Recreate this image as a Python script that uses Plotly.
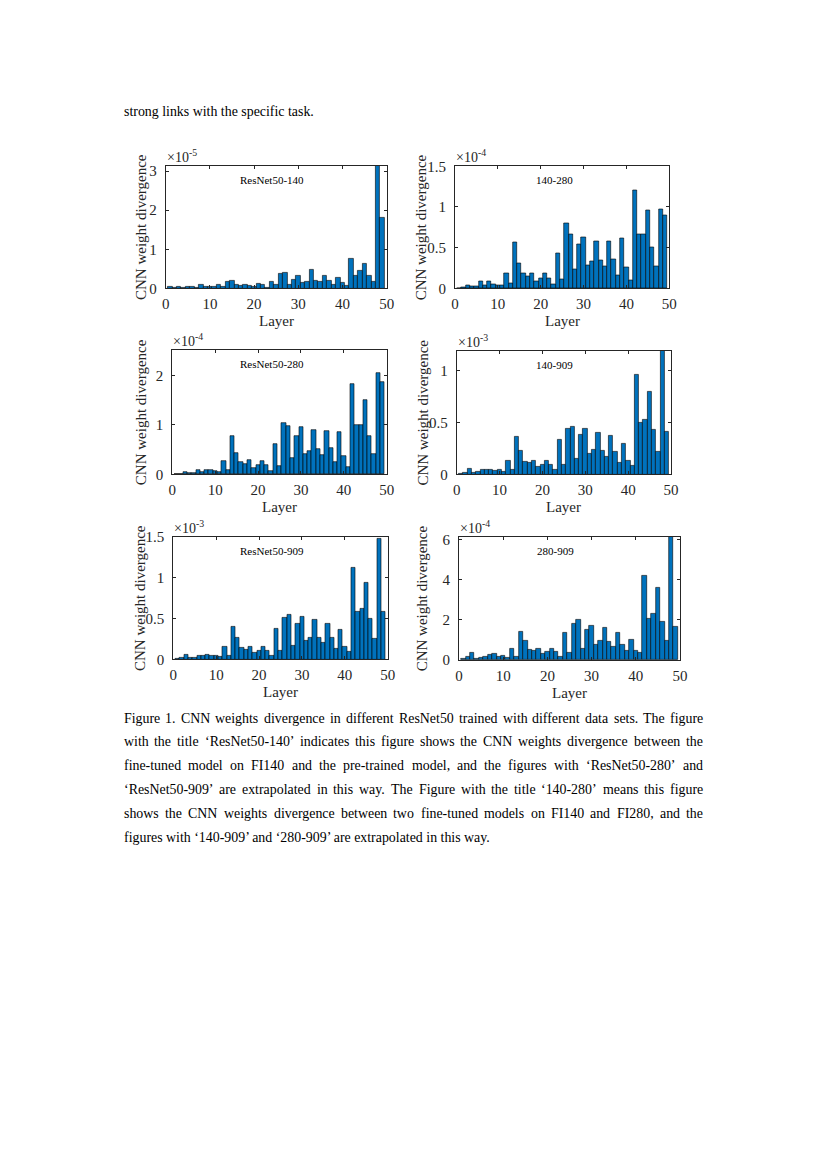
import plotly.graph_objects as go

W, H = 827, 1169

layers = list(range(1, 50))

resnet50_140 = [0.05, 0.02, 0.04, 0.02, 0.03, 0.05, 0.02, 0.10, 0.04, 0.05,
                0.03, 0.10, 0.05, 0.18, 0.20, 0.10, 0.07, 0.10, 0.06, 0.05,
                0.12, 0.08, 0.02, 0.18, 0.08, 0.37, 0.40, 0.10, 0.23, 0.32,
                0.14, 0.18, 0.48, 0.20, 0.17, 0.33, 0.20, 0.10, 0.28, 0.15,
                0.07, 0.76, 0.33, 0.44, 0.63, 0.33, 0.17, 3.30, 1.80]
d140_280 = [0.005, 0.01, 0.035, 0.025, 0.02, 0.085, 0.04, 0.085, 0.05, 0.04,
            0.035, 0.18, 0.06, 0.57, 0.31, 0.18, 0.15, 0.19, 0.09, 0.12,
            0.18, 0.12, 0.05, 0.43, 0.11, 0.80, 0.67, 0.23, 0.54, 0.63,
            0.28, 0.33, 0.58, 0.34, 0.27, 0.58, 0.36, 0.16, 0.62, 0.26,
            0.10, 1.21, 0.67, 0.66, 0.96, 0.50, 0.27, 0.97, 0.90]
resnet50_280 = [0.005, 0.01, 0.05, 0.03, 0.03, 0.08, 0.05, 0.08, 0.08, 0.07,
                0.05, 0.26, 0.09, 0.78, 0.43, 0.25, 0.21, 0.28, 0.13, 0.18,
                0.26, 0.18, 0.07, 0.62, 0.17, 1.05, 0.98, 0.33, 0.77, 0.95,
                0.42, 0.48, 0.89, 0.51, 0.40, 0.88, 0.53, 0.25, 0.86, 0.38,
                0.15, 1.84, 1.00, 1.00, 1.50, 0.78, 0.41, 2.05, 1.87]
d140_909 = [0.005, 0.02, 0.055, 0.02, 0.025, 0.045, 0.04, 0.045, 0.035, 0.04,
            0.025, 0.135, 0.04, 0.36, 0.23, 0.12, 0.11, 0.135, 0.07, 0.095,
            0.13, 0.095, 0.04, 0.33, 0.09, 0.44, 0.455, 0.15, 0.38, 0.44,
            0.20, 0.235, 0.40, 0.23, 0.17, 0.37, 0.22, 0.11, 0.30, 0.135,
            0.085, 0.96, 0.50, 0.53, 0.80, 0.43, 0.22, 1.25, 0.41]
resnet50_909 = [0.005, 0.02, 0.06, 0.02, 0.025, 0.05, 0.045, 0.055, 0.04, 0.05,
                0.03, 0.16, 0.05, 0.40, 0.26, 0.14, 0.12, 0.16, 0.08, 0.11,
                0.15, 0.11, 0.04, 0.38, 0.10, 0.51, 0.54, 0.17, 0.44, 0.52,
                0.23, 0.27, 0.48, 0.27, 0.20, 0.44, 0.26, 0.13, 0.36, 0.16,
                0.09, 1.12, 0.58, 0.62, 0.94, 0.50, 0.25, 1.48, 0.58]
d280_909 = [0.05, 0.15, 0.35, 0.07, 0.12, 0.18, 0.25, 0.30, 0.15, 0.22,
            0.10, 0.55, 0.18, 1.42, 0.95, 0.50, 0.45, 0.55, 0.30, 0.40,
            0.55, 0.42, 0.15, 1.37, 0.35, 1.80, 2.00, 0.55, 1.50, 1.72,
            0.78, 0.97, 1.60, 0.90, 0.65, 1.37, 0.78, 0.45, 1.03, 0.45,
            0.38, 4.18, 2.03, 2.30, 3.57, 1.88, 0.98, 6.40, 1.67]

titles = ["ResNet50-140", "140-280", "ResNet50-280", "140-909", "ResNet50-909", "280-909"]
exponents = ["-5", "-4", "-4", "-3", "-3", "-4"]
series = [resnet50_140, d140_280, resnet50_280, d140_909, resnet50_909, d280_909]
y_max = [3.14, 1.5, 2.52, 1.193, 1.5, 6.13]
y_ticks = [[0, 1, 2, 3], [0, 0.5, 1, 1.5], [0, 1, 2], [0, 0.5, 1],
           [0, 0.5, 1, 1.5], [0, 2, 4, 6]]
x_ticks = [0, 10, 20, 30, 40, 50]

top_text = "strong links with the specific task."
caption = [
    "Figure 1. CNN weights divergence in different ResNet50 trained with different data sets. The figure",
    "with the title ‘ResNet50-140’ indicates this figure shows the CNN weights divergence between the",
    "fine-tuned model on FI140 and the pre-trained model, and the figures with ‘ResNet50-280’ and",
    "‘ResNet50-909’ are extrapolated in this way. The Figure with the title ‘140-280’ means this figure",
    "shows the CNN weights divergence between two fine-tuned models on FI140 and FI280, and the",
    "figures with ‘140-909’ and ‘280-909’ are extrapolated in this way.",
]

# pixel boxes of the plot areas: (x0, x1, ytop, ybottom)
boxes = [(165.7, 386.7, 165.7, 288.3), (455, 669.3, 166.3, 288.3),
         (172.3, 386.7, 350, 474.3), (456.7, 671, 350.7, 474.3),
         (173.3, 387.7, 536.7, 659.3), (459, 680, 536.7, 660)]
col_title_x = [141, 421, 141, 422, 140, 422]
col_inner_x = [272, 554, 272, 554, 272, 555]

FONT = "Liberation Serif"
AX = "#262626"

def px(x):
    return x / W

def py(y):
    return 1 - y / H

def ann(text, x, y, xa, ya, size, color=AX, angle=0):
    return dict(text=text, x=px(x), y=py(y), xref="paper", yref="paper",
                xanchor=xa, yanchor=ya, showarrow=False, textangle=angle,
                borderpad=0, borderwidth=0,
                font=dict(family=FONT, size=size, color=color))

fig = go.Figure()
layout = dict(width=W, height=H,
              margin=dict(l=0, r=0, t=0, b=0, pad=0, autoexpand=False),
              paper_bgcolor="white", plot_bgcolor="white", showlegend=False,
              font=dict(family=FONT, color=AX), bargap=0)
annotations = []

for i, (vals, box) in enumerate(zip(series, boxes)):
    n = i + 1
    xa = "x" if n == 1 else f"x{n}"
    ya = "y" if n == 1 else f"y{n}"
    fig.add_trace(go.Bar(x=layers, y=vals, xaxis=xa, yaxis=ya, width=1.0,
                         hoverinfo="skip",
                         marker=dict(color="#0072BD",
                                     line=dict(color="#000000", width=0.6))))
    x0, x1, yt, yb = box
    xkey = "xaxis" if n == 1 else f"xaxis{n}"
    ykey = "yaxis" if n == 1 else f"yaxis{n}"
    layout[xkey] = dict(domain=[px(x0), px(x1)], range=[0, 50], anchor=ya,
                        tickvals=x_ticks, ticks="inside", ticklen=3,
                        tickcolor=AX, showline=True, linecolor=AX, linewidth=1,
                        mirror="ticks", showgrid=False, zeroline=False,
                        automargin=False, ticklabelstandoff=2,
                        tickfont=dict(family=FONT, size=15, color=AX))
    layout[ykey] = dict(domain=[py(yb), py(yt)], range=[0, y_max[i]],
                        anchor=xa, tickvals=y_ticks[i], ticks="inside",
                        ticklen=3, tickcolor=AX, showline=True, linecolor=AX,
                        linewidth=1, mirror="ticks", showgrid=False,
                        zeroline=False, automargin=False, ticklabelstandoff=5,
                        tickfont=dict(family=FONT, size=15, color=AX))
    cx = (x0 + x1) / 2
    annotations.append(ann(titles[i], col_inner_x[i], yt + 14, "center",
                           "middle", 11, "#000000"))
    annotations.append(ann("×10<sup>" + exponents[i] + "</sup>", x0 + 1,
                           yt - 1, "left", "bottom", 14))
    annotations.append(ann("Layer", cx, yb + 33, "center", "middle", 15))
    annotations.append(ann("CNN weight divergence", col_title_x[i],
                           (yt + yb) / 2, "center", "middle", 15, AX, -90))

# approximate Times advance widths (per 1000 em) for justifying the caption
TW = {c: 500 for c in "0123456789"}
TW.update(dict(zip("abcdefghijklmnopqrstuvwxyz",
                   [444, 500, 444, 500, 444, 333, 500, 500, 278, 278, 500, 278,
                    778, 500, 500, 500, 500, 333, 389, 278, 500, 500, 722, 500,
                    500, 444])))
TW.update(dict(zip("ABCDEFGHIJKLMNOPQRSTUVWXYZ",
                   [722, 667, 667, 722, 611, 556, 722, 722, 333, 389, 722, 611,
                    889, 722, 722, 556, 722, 667, 556, 611, 722, 722, 944, 722,
                    722, 611])))
TW.update({".": 250, ",": 250, "-": 333, "‘": 333, "’": 333, " ": 250})

CAP_SIZE = 13.9
LEFT, RIGHT = 124, 703

def word_w(w):
    return sum(TW.get(c, 500) for c in w) * CAP_SIZE / 1000

annotations.append(ann(top_text, LEFT, 112, "left", "middle", CAP_SIZE,
                       "#000000"))

for k, line in enumerate(caption):
    yline = 718 + k * 23.8
    words = line.split(" ")
    if k == len(caption) - 1:
        annotations.append(ann(line, LEFT, yline, "left", "middle", CAP_SIZE,
                               "#000000"))
        continue
    widths = [word_w(w) for w in words]
    gap = (RIGHT - LEFT - sum(widths)) / (len(words) - 1)
    xpos = LEFT
    for j, (w, ww) in enumerate(zip(words, widths)):
        if j == len(words) - 1:
            annotations.append(ann(w, RIGHT, yline, "right", "middle",
                                   CAP_SIZE, "#000000"))
        else:
            annotations.append(ann(w, xpos, yline, "left", "middle",
                                   CAP_SIZE, "#000000"))
        xpos += ww + gap

layout["annotations"] = annotations
fig.update_layout(**layout)
fig.write_html("out.html", config={"displayModeBar": False},
               post_script="document.body.style.margin='0';"
                           "document.body.style.padding='0';")
